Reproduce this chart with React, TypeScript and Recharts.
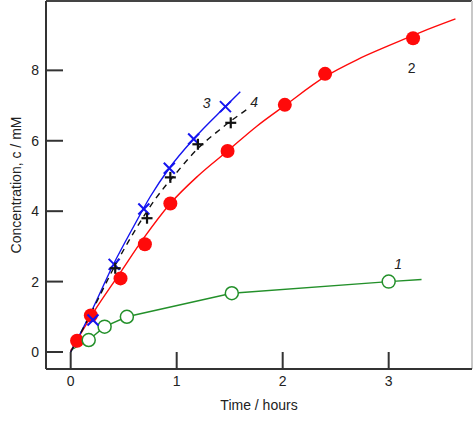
import React from 'react';
import {
  ComposedChart,
  Line,
  Scatter,
  XAxis,
  YAxis,
  ReferenceLine,
  ReferenceDot,
} from 'recharts';

// axis ranges (hours, mM)
const X_MIN = -0.233;
const X_MAX = 3.786;
const Y_MIN = -0.483;
const Y_MAX = 9.97;

const xTicks = [0, 1, 2, 3];
const yTicks = [0, 2, 4, 6, 8];

// measured points, series 1-4
const points1 = [
  { t: 0.17, c: 0.34 },
  { t: 0.32, c: 0.72 },
  { t: 0.53, c: 1.0 },
  { t: 1.52, c: 1.67 },
  { t: 3.0, c: 2.0 },
];
const points2 = [
  { t: 0.06, c: 0.32 },
  { t: 0.19, c: 1.04 },
  { t: 0.47, c: 2.09 },
  { t: 0.7, c: 3.06 },
  { t: 0.94, c: 4.22 },
  { t: 1.48, c: 5.71 },
  { t: 2.02, c: 7.02 },
  { t: 2.4, c: 7.9 },
  { t: 3.23, c: 8.91 },
];
const points3 = [
  { t: 0.21, c: 0.91 },
  { t: 0.41, c: 2.49 },
  { t: 0.69, c: 4.06 },
  { t: 0.93, c: 5.22 },
  { t: 1.16, c: 6.05 },
  { t: 1.46, c: 6.97 },
];
const points4 = [
  { t: 0.42, c: 2.38 },
  { t: 0.72, c: 3.8 },
  { t: 0.94, c: 4.96 },
  { t: 1.2, c: 5.9 },
  { t: 1.51, c: 6.51 },
];

// fitted curves
const curve1 = [
  { t: 0, c: 0.05 },
  { t: 0.17, c: 0.34 },
  { t: 0.32, c: 0.72 },
  { t: 0.53, c: 1.0 },
  { t: 1.52, c: 1.67 },
  { t: 3.0, c: 2.0 },
  { t: 3.31, c: 2.06 },
];
const curve2 = [
  { t: 0, c: 0.03 },
  { t: 0.21, c: 1.1 },
  { t: 0.465, c: 2.24 },
  { t: 0.685, c: 3.22 },
  { t: 0.94, c: 4.22 },
  { t: 1.2, c: 5.0 },
  { t: 1.48, c: 5.71 },
  { t: 1.75, c: 6.4 },
  { t: 2.02, c: 7.0 },
  { t: 2.4, c: 7.82 },
  { t: 2.7, c: 8.3 },
  { t: 3.0, c: 8.7 },
  { t: 3.3, c: 9.08 },
  { t: 3.63, c: 9.46 },
];
const curve3 = [
  { t: 0, c: 0 },
  { t: 0.2, c: 1.18 },
  { t: 0.4, c: 2.47 },
  { t: 0.6, c: 3.6 },
  { t: 0.75, c: 4.41 },
  { t: 0.93, c: 5.22 },
  { t: 1.16, c: 6.05 },
  { t: 1.46, c: 6.97 },
  { t: 1.6, c: 7.39 },
];
const curve4 = [
  { t: 0, c: 0 },
  { t: 0.2, c: 1.15 },
  { t: 0.4, c: 2.35 },
  { t: 0.6, c: 3.42 },
  { t: 0.8, c: 4.35 },
  { t: 1.0, c: 5.1 },
  { t: 1.2, c: 5.78 },
  { t: 1.4, c: 6.3 },
  { t: 1.69, c: 6.95 },
];

// series tags: [text, t, c, italic]
const tags: [string, number, number, boolean][] = [
  ['1', 3.09, 2.5, true],
  ['2', 3.217, 8.08, false],
  ['3', 1.283, 7.07, true],
  ['4', 1.73, 7.11, true],
];

const FONT = '"Liberation Sans", Arial, sans-serif';
const AXIS = '#333';
const GREEN = '#23902a';
const RED = '#ff0a0a';
const BLUE = '#1414f0';

const YTick = ({ x, y, payload }: any) => (
  <g>
    <line x1={x} y1={y} x2={x + 17} y2={y} stroke={AXIS} strokeWidth={2} />
    <text x={x - 7} y={y + 5} textAnchor="end" fontSize={14} fontFamily={FONT} fill="#222">
      {payload.value}
    </text>
  </g>
);

const XTick = ({ x, y, payload }: any) => (
  <g>
    <line x1={x} y1={y} x2={x} y2={y - 17} stroke={AXIS} strokeWidth={2} />
    <text x={x} y={y + 17} textAnchor="middle" fontSize={14} fontFamily={FONT} fill="#222">
      {payload.value}
    </text>
  </g>
);

const YTitle = ({ viewBox }: any) => {
  const cx = viewBox.x + 21;
  const cy = viewBox.y + viewBox.height / 2;
  return (
    <text
      x={cx}
      y={cy}
      transform={`rotate(-90 ${cx} ${cy})`}
      textAnchor="middle"
      fontSize={14}
      fontFamily={FONT}
      fill="#222"
    >
      Concentration, c / mM
    </text>
  );
};

const XTitle = ({ viewBox }: any) => (
  <text
    x={viewBox.x + viewBox.width / 2}
    y={viewBox.y + 41}
    textAnchor="middle"
    fontSize={14}
    fontFamily={FONT}
    fill="#222"
  >
    Time / hours
  </text>
);

const OpenCircle = ({ cx, cy }: any) => (
  <circle cx={cx} cy={cy} r={6.5} fill="#fff" stroke={GREEN} strokeWidth={1.5} />
);
const FilledCircle = ({ cx, cy }: any) => <circle cx={cx} cy={cy} r={7} fill={RED} />;
const Cross = ({ cx, cy }: any) => (
  <g stroke={BLUE} strokeWidth={2}>
    <line x1={cx - 5.5} y1={cy - 5.5} x2={cx + 5.5} y2={cy + 5.5} />
    <line x1={cx - 5.5} y1={cy + 5.5} x2={cx + 5.5} y2={cy - 5.5} />
  </g>
);
const Plus = ({ cx, cy }: any) => (
  <g stroke="#111" strokeWidth={2.2}>
    <line x1={cx - 5.5} y1={cy} x2={cx + 5.5} y2={cy} />
    <line x1={cx} y1={cy - 5.5} x2={cx} y2={cy + 5.5} />
  </g>
);

export default function App() {
  return (
    <div style={{ position: 'absolute', left: 0, top: 0, background: '#fff' }}>
      <ComposedChart width={474} height={433} margin={{ top: 1, right: 2, left: 0, bottom: 0 }}>
        <XAxis
          type="number"
          dataKey="t"
          domain={[X_MIN, X_MAX]}
          ticks={xTicks}
          interval={0}
          allowDataOverflow
          height={64}
          tickSize={0}
          tickMargin={0}
          tickLine={false}
          tick={<XTick />}
          axisLine={{ stroke: AXIS, strokeWidth: 2 }}
          label={{ content: <XTitle /> }}
        />
        <YAxis
          type="number"
          dataKey="c"
          domain={[Y_MIN, Y_MAX]}
          ticks={yTicks}
          interval={0}
          allowDataOverflow
          width={46}
          tickSize={0}
          tickMargin={0}
          tickLine={false}
          tick={<YTick />}
          axisLine={{ stroke: AXIS, strokeWidth: 2 }}
          label={{ content: <YTitle /> }}
        />
        <ReferenceLine y={Y_MAX} stroke="#444" strokeWidth={2} />
        <ReferenceLine x={X_MAX} stroke="#c8c8c8" strokeWidth={2} />

        <Line data={curve1} dataKey="c" type="linear" stroke={GREEN} strokeWidth={1.4} dot={false} isAnimationActive={false} />
        <Line data={curve2} dataKey="c" type="monotone" stroke={RED} strokeWidth={1.4} dot={false} isAnimationActive={false} />
        <Line data={curve3} dataKey="c" type="monotone" stroke={BLUE} strokeWidth={1.4} dot={false} isAnimationActive={false} />
        <Line data={curve4} dataKey="c" type="monotone" stroke="#111" strokeWidth={1.4} strokeDasharray="6 5" dot={false} isAnimationActive={false} />

        <Scatter data={points2} dataKey="c" shape={<FilledCircle />} isAnimationActive={false} />
        <Scatter data={points1} dataKey="c" shape={<OpenCircle />} isAnimationActive={false} />
        <Scatter data={points3} dataKey="c" shape={<Cross />} isAnimationActive={false} />
        <Scatter data={points4} dataKey="c" shape={<Plus />} isAnimationActive={false} />

        {tags.map(([text, t, c, italic]) => (
          <ReferenceDot
            key={text}
            x={t}
            y={c}
            r={0}
            stroke="none"
            fill="none"
            label={{
              value: text,
              position: 'center',
              fontSize: 14,
              fontFamily: FONT,
              fontStyle: italic ? 'italic' : 'normal',
              fill: '#222',
            }}
          />
        ))}
      </ComposedChart>
    </div>
  );
}
